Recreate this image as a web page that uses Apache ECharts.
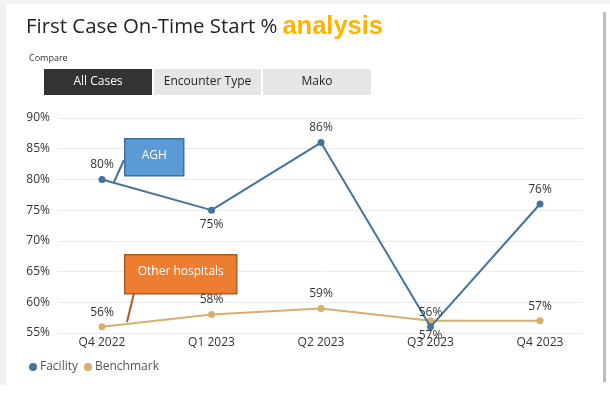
<!DOCTYPE html>
<html>
<head>
<meta charset="utf-8">
<script src="https://cdn.jsdelivr.net/npm/echarts@6/dist/echarts.min.js"></script>
<style>
html,body{margin:0;padding:0;background:#fff;}
#chart{width:610px;height:394px;}
</style>
</head>
<body>
<div id="chart"></div>
<script>
const categories = ['Q4 2022', 'Q1 2023', 'Q2 2023', 'Q3 2023', 'Q4 2023'];
const facility = [80, 75, 86, 56, 76];
const benchmark = [56, 58, 59, 57, 57];
const facilityLabelPos = ['top', 'bottom', 'top', 'top', 'top'];
const benchmarkLabelPos = ['top', 'top', 'top', 'bottom', 'top'];
const yTicks = [55, 60, 65, 70, 75, 80, 85, 90];
const buttons = ['All Cases', 'Encounter Type', 'Mako'];

const FONT = '"Open Sans", "Noto Sans", sans-serif';
const chart = echarts.init(document.getElementById('chart'), null, {renderer: 'canvas'});

const labelStyle = {show: true, formatter: p => p.value + '%', color: '#333', fontSize: 12, fontFamily: FONT};

const btnX = [44, 154, 263], btnW = [108, 107, 108];
const btnGraphics = buttons.map((b, i) => ({
  type: 'group', left: btnX[i], top: 69,
  children: [
    {type: 'rect', shape: {x: 0, y: 0, width: btnW[i], height: 26}, style: {fill: i === 0 ? '#333333' : '#E6E6E6'}},
    {type: 'text', x: btnW[i] / 2, y: 13, style: {text: b, fill: i === 0 ? '#fff' : '#252423', font: '12px ' + FONT, align: 'center', verticalAlign: 'middle'}}
  ]
}));

chart.setOption({
  animation: false,
  backgroundColor: '#fff',
  title: {
    left: 21, top: 9,
    text: '{a|First Case On-Time Start %} {b|analysis}',
    textStyle: {
      fontWeight: 'normal',
      rich: {
        a: {fontSize: 20.4, color: '#252423', fontWeight: 'normal', fontFamily: FONT},
        b: {fontSize: 25.5, color: '#FFB300', fontWeight: 'bold', fontFamily: 'Liberation Sans, Arial, sans-serif'}
      }
    }
  },
  legend: {
    left: 24, top: 356,
    icon: 'circle', itemWidth: 8, itemHeight: 8, itemGap: 6,
    textStyle: {color: '#555', fontSize: 12, fontFamily: FONT, padding: [0, 0, 0, -2]},
    data: ['Facility', 'Benchmark']
  },
  grid: [
    {left: 58, right: 27, top: 118, bottom: 61},
    {left: 102, right: 70, top: 118, bottom: 61}
  ],
  xAxis: [
    {gridIndex: 0, type: 'category', data: categories, show: false},
    {gridIndex: 1, type: 'category', data: categories, boundaryGap: false,
     axisLine: {show: false}, axisTick: {show: false},
     axisLabel: {color: '#333', fontSize: 12, fontFamily: FONT, margin: 4}}
  ],
  yAxis: [
    {gridIndex: 0, type: 'value', min: yTicks[0], max: yTicks[yTicks.length - 1], interval: 5,
     axisLine: {show: false}, axisTick: {show: false},
     axisLabel: {formatter: v => v + '%', color: '#333', fontSize: 12, fontFamily: FONT, margin: 8},
     splitLine: {lineStyle: {color: '#EBEBEB', width: 1}}},
    {gridIndex: 1, type: 'value', min: yTicks[0], max: yTicks[yTicks.length - 1], interval: 5, show: false}
  ],
  series: [
    {name: 'Facility', type: 'line', xAxisIndex: 1, yAxisIndex: 1,
     data: facility.map((v, i) => ({value: v, label: {position: facilityLabelPos[i]}})),
     symbol: 'circle', symbolSize: 7, color: '#44739E',
     lineStyle: {width: 2, color: '#44739E'},
     label: labelStyle, z: 3},
    {name: 'Benchmark', type: 'line', xAxisIndex: 1, yAxisIndex: 1,
     data: benchmark.map((v, i) => ({value: v, label: {position: benchmarkLabelPos[i]}})),
     symbol: 'circle', symbolSize: 7, color: '#D6AE6E',
     lineStyle: {width: 2, color: '#D6AE6E'},
     label: labelStyle, z: 2}
  ],
  graphic: [
    {type: 'rect', left: 0, top: 0, shape: {width: 6, height: 385}, style: {fill: '#F0F0F0'}, silent: true},
    {type: 'rect', left: 0, top: 0, shape: {width: 610, height: 4}, style: {fill: '#F4F4F4'}, silent: true},
    {type: 'rect', left: 603, top: 12, shape: {width: 3, height: 370}, style: {fill: '#BDBDBD'}, silent: true},
    {type: 'text', left: 29, top: 54, style: {text: 'Compare', fill: '#333', font: '9px ' + FONT}},
    ...btnGraphics,
    {type: 'line', shape: {x1: 124, y1: 160, x2: 114, y2: 182}, style: {stroke: '#41719C', lineWidth: 2}, z: 100, zlevel: 1},
    {type: 'group', left: 124, top: 138, z: 100, zlevel: 1, children: [
      {type: 'rect', z: 100, zlevel: 1, shape: {x: 0, y: 0, width: 59, height: 37}, style: {fill: '#5B9BD5', stroke: '#41719C', lineWidth: 1.5}},
      {type: 'text', z: 101, zlevel: 1, x: 29.5, y: 17, style: {text: 'AGH', fill: '#fff', font: '12px ' + FONT, align: 'center', verticalAlign: 'middle'}}
    ]},
    {type: 'line', shape: {x1: 134, y1: 293, x2: 127, y2: 322}, style: {stroke: '#AE5A21', lineWidth: 2}, z: 100, zlevel: 1},
    {type: 'group', left: 124, top: 254, z: 100, zlevel: 1, children: [
      {type: 'rect', z: 100, zlevel: 1, shape: {x: 0, y: 0, width: 112, height: 39}, style: {fill: '#ED7D31', stroke: '#AE5A21', lineWidth: 1.5}},
      {type: 'text', z: 101, zlevel: 1, x: 56, y: 17, style: {text: 'Other hospitals', fill: '#fff', font: '12px ' + FONT, align: 'center', verticalAlign: 'middle'}}
    ]}
  ]
});
</script>
</body>
</html>
